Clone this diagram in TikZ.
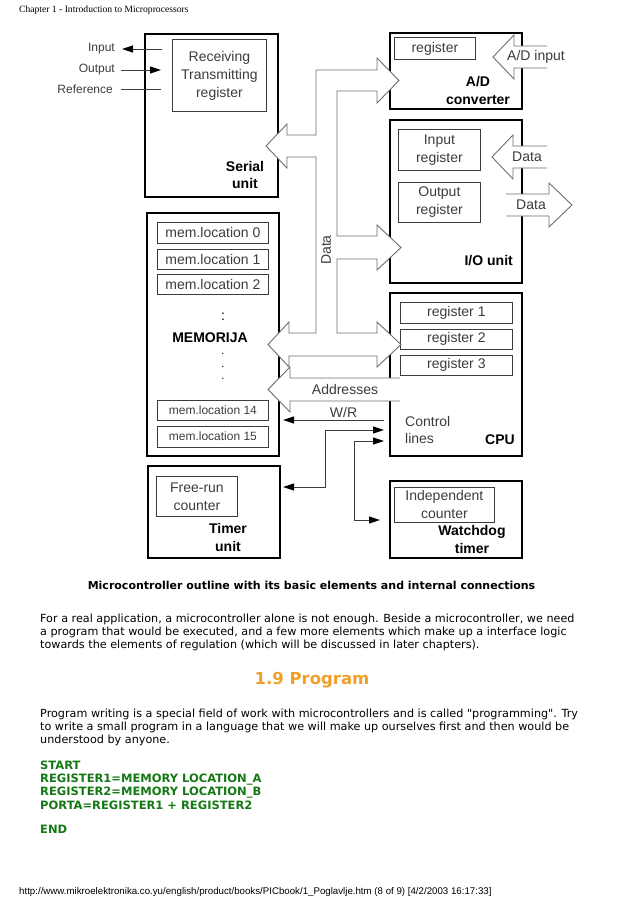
\documentclass[tikz,border=0pt]{standalone}
\usepackage{fontspec}
\setmainfont{Liberation Sans}
\newfontfamily\pagefont{DejaVu Sans}
\newfontfamily\headfont{Liberation Serif}
\usepackage{xcolor}
\usepackage{tikz}
\usetikzlibrary{arrows.meta,positioning}
\definecolor{progorange}{RGB}{240,160,40}
\definecolor{codegreen}{RGB}{20,120,20}
\definecolor{busgray}{RGB}{110,110,110}
\definecolor{txtgray}{RGB}{60,60,60}

\begin{document}
\begin{tikzpicture}[x=1pt,y=-1pt,
  blk/.style={draw,line width=1.6pt,anchor=north west,inner sep=0pt},
  rg/.style={draw=txtgray,line width=.8pt,anchor=north west,align=center,
    text=txtgray,font=\fontsize{14}{18}\selectfont,inner sep=0pt},
  ttl/.style={align=center,font=\fontsize{14}{17.5}\selectfont\bfseries,inner sep=0pt},
  bus/.style={draw=busgray,line width=.9pt,fill=white},
  f/.style={-{Triangle[length=11pt,width=7pt,color=black]},line width=1pt,draw=txtgray},
  ff/.style={{Triangle[length=11pt,width=7pt,color=black]}-{Triangle[length=11pt,width=7pt,color=black]},
    line width=1pt,draw=txtgray},
  lab/.style={font=\fontsize{14}{17}\selectfont,text=txtgray,inner sep=0pt},
  small/.style={font=\fontsize{12}{14}\selectfont},
  para/.style={font=\pagefont\fontsize{11.2}{13.3}\selectfont,anchor=north west,align=left,inner sep=0pt}]
\useasboundingbox (0,0) rectangle (638,903);
\node[font=\headfont\fontsize{9.6}{10}\selectfont,anchor=west,inner sep=0pt] (chap) at (19,10) {Chapter 1 - Introduction to Microprocessors};
\node[blk,minimum width=133pt,minimum height=163pt] (serial) at (144,33) {};
\node[rg,minimum width=94pt,minimum height=72pt] (rtreg) at (172,39) {Receiving\\Transmitting\\register};
\node[ttl] (seriallab) at (245,175) {Serial\\unit};
\node[lab,small,anchor=east] (inp) at (115,49) {Input};
\node[lab,small,anchor=east] (outp) at (115,70) {Output};
\node[lab,small,anchor=east] (refp) at (113,89) {Reference};
\coordinate (inR) at (162,49);
\coordinate (outR) at (161,70);
\coordinate (refR) at (161,89);
\draw[f,shorten >=7pt] (inR) -- (inp);
\draw[f,shorten <=6pt] (outp) -- (outR);
\draw[line width=1pt,draw=txtgray,shorten <=8pt] (refp) -- (refR);
\node[blk,minimum width=132pt,minimum height=76pt] (adc) at (389,32) {};
\node[rg,minimum width=81pt,minimum height=22pt] (adreg) at (394,37) {register};
\node[ttl] (adclab) at (478,90.5) {A/D\\converter};
\node[blk,minimum width=132pt,minimum height=163pt] (io) at (389,119) {};
\node[rg,minimum width=82pt,minimum height=41pt] (inreg) at (398,129) {Input\\register};
\node[rg,minimum width=82pt,minimum height=40pt,below=11pt of inreg] (outreg) {Output\\register};
\node[ttl,anchor=east] (iolab) at (513,261) {I/O unit};
\node[blk,minimum width=132pt,minimum height=163pt] (cpu) at (389,292) {};
\node[rg,minimum width=112pt,minimum height=21pt] (reg1) at (400,302) {register 1};
\node[rg,minimum width=112pt,minimum height=20pt,below=5pt of reg1] (reg2) {register 2};
\node[rg,minimum width=112pt,minimum height=20pt,below=5pt of reg2] (reg3) {register 3};
\node[lab,align=left,anchor=west] (ctllab) at (405,429.5) {Control\\lines};
\node[ttl,anchor=east] (cpulab) at (515,440) {CPU};
\node[blk,minimum width=132pt,minimum height=243pt] (mem) at (146,212) {};
\node[rg,minimum width=111pt,minimum height=21pt] (loc0) at (157,222) {mem.location 0};
\node[rg,minimum width=111pt,minimum height=20pt,below=5pt of loc0] (loc1) {mem.location 1};
\node[rg,minimum width=111pt,minimum height=20pt,below=4pt of loc1] (loc2) {mem.location 2};
\node[lab,text=black] (memcol) at (223,317) {:};
\node[ttl] (memlab) at (210,337.5) {MEMORIJA};
\node[lab,text=black,align=center,font=\fontsize{11}{12.5}\selectfont] (memdots) at (223,366.5) {.\\.\\.};
\node[rg,small,minimum width=111pt,minimum height=20pt] (loc14) at (157,400) {mem.location 14};
\node[rg,small,minimum width=111pt,minimum height=21pt,below=5pt of loc14] (loc15) {mem.location 15};
\node[blk,minimum width=132pt,minimum height=92pt] (timer) at (147,465) {};
\node[rg,minimum width=81pt,minimum height=40pt] (frc) at (156,476) {Free-run\\counter};
\node[ttl] (timerlab) at (228,537.5) {Timer\\unit};
\node[blk,minimum width=132pt,minimum height=77pt] (wdt) at (389,480) {};
\node[rg,minimum width=100pt,minimum height=35pt] (indc) at (394,487) {Independent\\counter};
\node[ttl] (wdtlab) at (472,539.5) {Watchdog\\timer};
\filldraw[bus] (316,70) -- (377,70) -- (377,58) -- (399,80.5) -- (377,103) -- (377,91) -- (337,91)
  -- (337,236) -- (377,236) -- (377,225) -- (401,247.5) -- (377,270) -- (377,259) -- (337,259)
  -- (337,333) -- (377,333) -- (377,322) -- (401,344.5) -- (377,367) -- (377,356) -- (289,356)
  -- (289,367) -- (268,344.5) -- (289,322) -- (289,333) -- (316,333) -- (316,157) -- (287,157)
  -- (287,168) -- (266,146) -- (287,124) -- (287,135) -- (316,135) -- cycle;
\node[lab,rotate=90] (datalab) at (326,250) {Data};
\filldraw[bus] (400,378) -- (290,378) -- (290,367) -- (268,389.5) -- (290,412) -- (290,401) -- (400,401);
\node[lab] (addrlab) at (345,389.5) {Addresses};
\filldraw[bus] (547,46) -- (514,46) -- (514,35) -- (493,57) -- (514,79) -- (514,68) -- (547,68);
\node[lab] (adinlab) at (536,57) {A/D input};
\filldraw[bus] (547,146) -- (513,146) -- (513,135) -- (492,157) -- (513,179) -- (513,168) -- (547,168);
\node[lab] (dinlab) at (527,157) {Data};
\filldraw[bus] (506,194) -- (549,194) -- (549,183) -- (572,205) -- (549,227) -- (549,216) -- (506,216);
\node[lab] (doutlab) at (531,205) {Data};
\coordinate (wrS) at (384,420);
\coordinate (wrE) at (283,420);
\coordinate (cin1) at (384,430);
\coordinate (cin2) at (384,441);
\coordinate (tmrin) at (283,487);
\coordinate (wdin) at (380,520);
\draw[f] (wrS) -- node[lab,above=1.5pt,pos=.4] (wrlab) {W/R} (wrE);
\draw[ff] (tmrin) -- ++(42,0) |- (cin1);
\draw[ff] (cin2) -- ++(-30,0) |- (wdin);
\node[font=\pagefont\bfseries\fontsize{11}{12}\selectfont,anchor=base,inner sep=0pt] (caption) at (311.5,589)
  {Microcontroller outline with its basic elements and internal connections};
\node[para] (para1) at (40,613.5) {For a real application, a microcontroller alone is not enough. Beside a microcontroller, we need\\
  a program that would be executed, and a few more elements which make up a interface logic\\
  towards the elements of regulation (which will be discussed in later chapters).};
\node[font=\pagefont\bfseries\fontsize{16.5}{18}\selectfont,text=progorange,anchor=base,inner sep=0pt] (sect) at (312,684) {1.9 Program};
\node[para] (para2) at (40,708.5) {Program writing is a special field of work with microcontrollers and is called \textquotedbl programming\textquotedbl. Try\\
  to write a small program in a language that we will make up ourselves first and then would be\\
  understood by anyone.};
\node[para,font=\pagefont\bfseries\fontsize{11.5}{13.3}\selectfont,text=codegreen] (code) at (40,760.5)
  {START\\REGISTER1=MEMORY LOCATION\_A\\REGISTER2=MEMORY LOCATION\_B\\PORTA=REGISTER1 + REGISTER2\\[10.7pt]END};
\node[font=\fontsize{9.7}{10}\selectfont,anchor=west,inner sep=0pt] (url) at (19,892)
  {http://www.mikroelektronika.co.yu/english/product/books/PICbook/1\_Poglavlje.htm (8 of 9) [4/2/2003 16:17:33]};
\end{tikzpicture}
\end{document}
